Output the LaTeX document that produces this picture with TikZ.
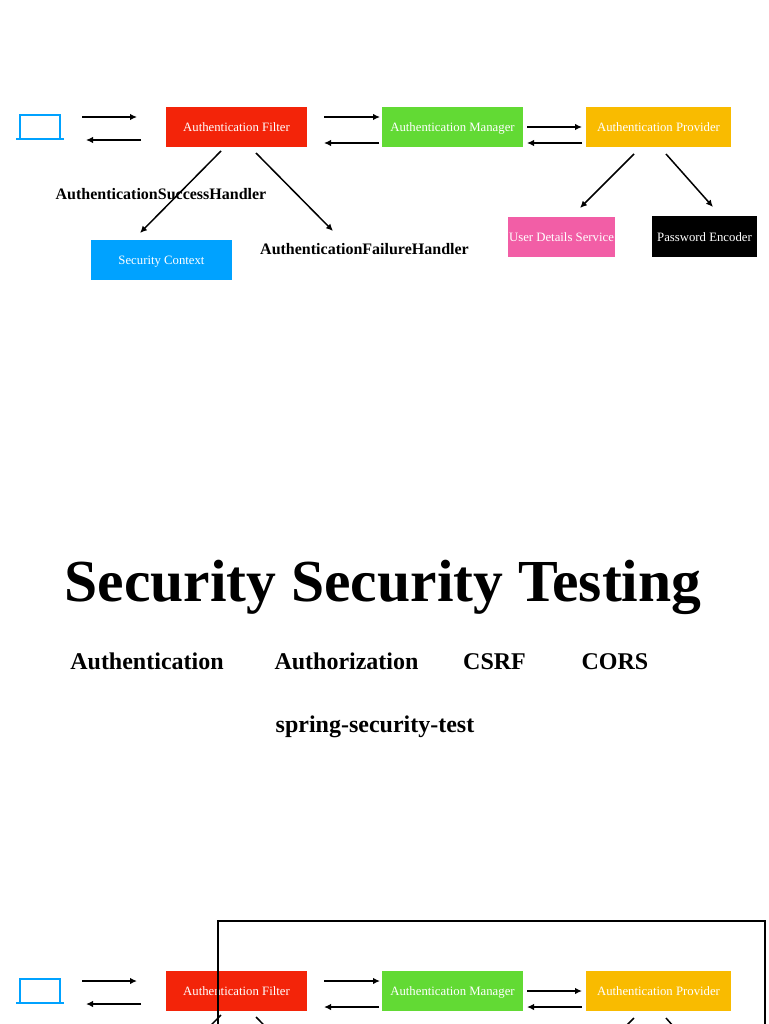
\documentclass[tikz,border=0pt]{standalone}
\usepackage{fontspec}
\usetikzlibrary{arrows.meta}
\setmainfont{Liberation Serif}
\definecolor{filterred}{HTML}{F32409}
\definecolor{managergreen}{HTML}{62DA34}
\definecolor{provideramber}{HTML}{F9BB00}
\definecolor{contextblue}{HTML}{00A2FF}
\definecolor{servicepink}{HTML}{F25EA6}
\begin{document}
\begin{tikzpicture}
  [x=1pt,y=-1pt,
   block/.style={inner sep=0pt,minimum height=40pt,text height=9pt,text depth=0pt,text=white,font=\fontsize{12.75}{14}\selectfont},
   handler/.style={inner sep=0pt,text height=10pt,text depth=0pt,font=\fontsize{16}{18}\selectfont\bfseries},
   topic/.style={inner sep=0pt,text height=15pt,text depth=0pt,font=\fontsize{24}{28}\selectfont\bfseries},
   flow/.style={-{Latex[length=7pt,width=6.5pt]},line width=1.5pt},
   laptop/.style={contextblue,line width=2.4pt}]
  \useasboundingbox (0,0) rectangle (768,1024);
  \clip (0,0) rectangle (768,1024);

  % top diagram
  \draw [laptop] (20,115) rectangle (60,139);
  \draw [laptop] (16,139) -- (64,139);
  \node (filter) at (236.5,127) [block,fill=filterred,minimum width=141pt] {Authentication Filter};
  \node (manager) at (452.5,127) [block,fill=managergreen,minimum width=141pt] {Authentication Manager};
  \node (provider) at (658.5,127) [block,fill=provideramber,minimum width=145pt] {Authentication Provider};
  \node (context) at (161.5,260) [block,fill=contextblue,minimum width=141pt] {Security Context};
  \node (service) at (561.5,237) [block,fill=servicepink,minimum width=107pt] {User Details Service};
  \node (encoder) at (704.5,236.5) [block,fill=black,minimum width=105pt,minimum height=41pt] {Password Encoder};
  \node (success) at (161,194.5) [handler] {AuthenticationSuccessHandler};
  \node (failure) at (364.5,249.5) [handler] {AuthenticationFailureHandler};

  \coordinate (a1) at (82,117);   \coordinate (a2) at (137,117);
  \coordinate (b1) at (141,140);  \coordinate (b2) at (86,140);
  \coordinate (c1) at (324,117);  \coordinate (c2) at (380,117);
  \coordinate (d1) at (379,143);  \coordinate (d2) at (324,143);
  \coordinate (e1) at (527,127);  \coordinate (e2) at (582,127);
  \coordinate (f1) at (582,143);  \coordinate (f2) at (527,143);
  \coordinate (g1) at (221,151);  \coordinate (g2) at (140,233);
  \coordinate (h1) at (256,153);  \coordinate (h2) at (333,231);
  \coordinate (i1) at (634,154);  \coordinate (i2) at (580,208);
  \coordinate (j1) at (666,154);  \coordinate (j2) at (713,207);
  \draw [flow] (a1) to (a2);
  \draw [flow] (b1) to (b2);
  \draw [flow] (c1) to (c2);
  \draw [flow] (d1) to (d2);
  \draw [flow] (e1) to (e2);
  \draw [flow] (f1) to (f2);
  \draw [flow] (g1) to (g2);
  \draw [flow] (h1) to (h2);
  \draw [flow] (i1) to (i2);
  \draw [flow] (j1) to (j2);

  % title
  \node (title) at (383,581) [inner sep=0pt,text height=40pt,text depth=0pt,font=\fontsize{59.6}{70}\selectfont\bfseries] {Security Security Testing};
  \node (authn) at (147,662) [topic] {Authentication};
  \node (authz) at (346.5,662) [topic] {Authorization};
  \node (csrf) at (494.5,662) [topic] {CSRF};
  \node (cors) at (615,662) [topic] {CORS};
  \node (springtest) at (375,725) [topic] {spring-security-test};

  % bottom diagram
  \draw [laptop] (20,979) rectangle (60,1003);
  \draw [laptop] (16,1003) -- (64,1003);
  \node (filter2) at (236.5,991) [block,fill=filterred,minimum width=141pt] {Authentication Filter};
  \node (manager2) at (452.5,991) [block,fill=managergreen,minimum width=141pt] {Authentication Manager};
  \node (provider2) at (658.5,991) [block,fill=provideramber,minimum width=145pt] {Authentication Provider};

  \coordinate (k1) at (82,981);    \coordinate (k2) at (137,981);
  \coordinate (l1) at (141,1004);  \coordinate (l2) at (86,1004);
  \coordinate (m1) at (324,981);   \coordinate (m2) at (380,981);
  \coordinate (n1) at (379,1007);  \coordinate (n2) at (324,1007);
  \coordinate (o1) at (527,991);   \coordinate (o2) at (582,991);
  \coordinate (p1) at (582,1007);  \coordinate (p2) at (527,1007);
  \coordinate (q1) at (221,1015);  \coordinate (q2) at (140,1097);
  \coordinate (r1) at (256,1017);  \coordinate (r2) at (333,1095);
  \coordinate (s1) at (634,1018);  \coordinate (s2) at (580,1072);
  \coordinate (t1) at (666,1018);  \coordinate (t2) at (713,1071);
  \draw [flow] (k1) to (k2);
  \draw [flow] (l1) to (l2);
  \draw [flow] (m1) to (m2);
  \draw [flow] (n1) to (n2);
  \draw [flow] (o1) to (o2);
  \draw [flow] (p1) to (p2);
  \draw [flow] (q1) to (q2);
  \draw [flow] (r1) to (r2);
  \draw [flow] (s1) to (s2);
  \draw [flow] (t1) to (t2);

  \coordinate (u1) at (218,1030);  \coordinate (u2) at (218,921);
  \coordinate (u3) at (765,921);   \coordinate (u4) at (765,1030);
  \draw [line width=1.5pt] (u1) -- (u2) -- (u3) -- (u4);
\end{tikzpicture}
\end{document}
